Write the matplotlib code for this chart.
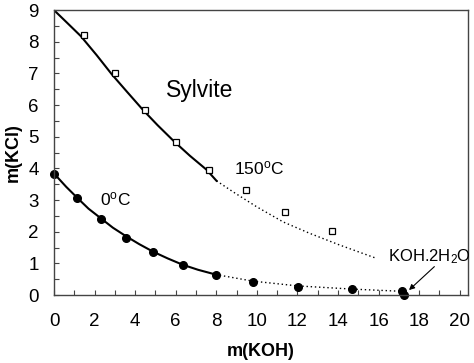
import matplotlib
matplotlib.use("Agg")
import matplotlib.pyplot as plt
from matplotlib.ticker import MultipleLocator

plt.rcParams["font.family"] = ["Liberation Sans", "DejaVu Sans"]
plt.rcParams["mathtext.fontset"] = "custom"
plt.rcParams["mathtext.rm"] = "Liberation Sans"
plt.rcParams["mathtext.it"] = "Liberation Sans:italic"
plt.rcParams["mathtext.bf"] = "Liberation Sans:bold"

# 150 C data (open squares)
koh_150 = [1.48, 3.00, 4.50, 6.01, 7.65, 9.48, 11.40, 13.68]
kcl_150 = [8.20, 7.00, 5.86, 4.85, 3.96, 3.32, 2.61, 2.02]

# 150 C model curve, solid part and dotted extension
fit150_x = [0.0, 0.63, 1.32, 2.1, 2.84, 3.6, 4.37, 5.1, 5.91, 6.7, 7.52, 8.01]
fit150_y = [9.0, 8.61, 8.18, 7.58, 6.98, 6.42, 5.86, 5.37, 4.86, 4.40, 3.96, 3.61]
dot150_x = [8.01, 8.83, 9.99, 11.3, 12.61, 14.09, 15.9]
dot150_y = [3.61, 3.26, 2.79, 2.31, 1.95, 1.58, 1.16]

# 0 C data (filled circles)
koh_0 = [0.0, 1.15, 2.32, 3.55, 4.89, 6.34, 7.97, 9.82, 12.03, 14.71, 17.16, 17.24]
kcl_0 = [3.84, 3.07, 2.39, 1.79, 1.36, 0.96, 0.63, 0.42, 0.26, 0.18, 0.13, 0.01]

# 0 C model curve
fit0_x = [0.0, 0.6, 1.15, 1.7, 2.32, 2.9, 3.55, 4.2, 4.89, 5.6, 6.34, 7.1, 7.97]
fit0_y = [3.84, 3.42, 3.07, 2.73, 2.42, 2.13, 1.86, 1.61, 1.37, 1.16, 0.96, 0.80, 0.65]
dot0_x = [7.97, 9.82, 12.03, 14.71, 17.16]
dot0_y = [0.65, 0.44, 0.29, 0.19, 0.12]

fig = plt.figure(figsize=(4.74, 3.63), dpi=100)
ax = fig.add_axes([0.114, 0.187, 0.873, 0.785])

ax.plot(fit150_x, fit150_y, color="black", lw=1.5)
ax.plot(dot150_x, dot150_y, color="black", lw=1.0, ls=(0, (1, 2)))
ax.plot(koh_150, kcl_150, "s", ms=5, mfc="white", mec="black", mew=0.9)

ax.plot(fit0_x, fit0_y, color="black", lw=1.5)
ax.plot(dot0_x, dot0_y, color="black", lw=1.0, ls=(0, (1, 2)))
ax.plot(koh_0, kcl_0, "o", ms=5.5, color="black", clip_on=False)

ax.text(7.2, 6.47, "Sylvite", fontsize=16.5, ha="center", va="center")
ax.text(8.85, 4.0, r"150$^\mathrm{o}$C", fontsize=12.5, va="center")
ax.text(2.28, 3.03, r"0$^\mathrm{o}$C", fontsize=12.5, va="center")
ax.text(16.45, 1.21, r"KOH.2H$_\mathrm{2}$O", fontsize=12, va="center")
ax.annotate("", xy=(17.5, 0.16), xytext=(18.75, 0.9),
            arrowprops=dict(arrowstyle="-|>", lw=0.8, color="black",
                            mutation_scale=8, shrinkA=0, shrinkB=0))

ax.set_xlim(0, 20.4)
ax.set_ylim(0, 9)
ax.xaxis.set_major_locator(MultipleLocator(2))
ax.xaxis.set_minor_locator(MultipleLocator(1))
ax.yaxis.set_major_locator(MultipleLocator(1))
ax.yaxis.set_minor_locator(MultipleLocator(0.5))
ax.tick_params(which="both", direction="in", length=3.5, width=0.8,
               color="#444444", labelsize=13.5)
ax.tick_params(axis="x", pad=13)
ax.tick_params(axis="y", pad=11)
for s in ax.spines.values():
    s.set_color("#444444")
    s.set_linewidth(1.0)

ax.set_xlabel("m(KOH)", fontsize=13, fontweight="bold", labelpad=9)
ax.set_ylabel("m(KCl)", fontsize=13, fontweight="bold", labelpad=5)

fig.savefig("out.png", dpi=100)
